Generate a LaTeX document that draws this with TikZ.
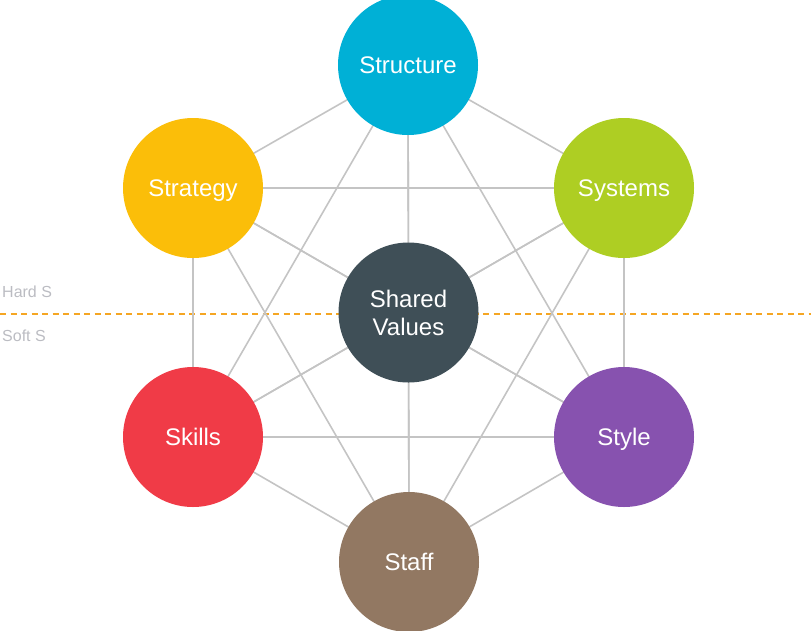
\documentclass[tikz,border=0pt]{standalone}
\usepackage{fontspec}
\setmainfont{Liberation Sans}
\definecolor{cStructure}{HTML}{00B0D6}
\definecolor{cStrategy}{HTML}{FBBE09}
\definecolor{cSystems}{HTML}{AECE23}
\definecolor{cShared}{HTML}{3F4F57}
\definecolor{cSkills}{HTML}{F03B47}
\definecolor{cStyle}{HTML}{8752AF}
\definecolor{cStaff}{HTML}{927862}
\definecolor{cLine}{HTML}{C4C4C4}
\definecolor{cDash}{HTML}{F5A623}
\definecolor{cLabel}{HTML}{BBBCC2}
\begin{document}
\begin{tikzpicture}[x=1pt,y=-1pt,
  sball/.style={circle,minimum size=140pt,inner sep=0pt,text=white,
    font=\fontsize{24}{28}\selectfont,align=center},
  oneline/.style={text height=17pt,text depth=0pt},
  link/.style={draw=cLine,line width=1.6pt},
  side/.style={text=cLabel,font=\fontsize{16}{18}\selectfont,anchor=base west,inner sep=0pt}]
\useasboundingbox (0,0) rectangle (811,630);
\coordinate (dl) at (0,314);
\coordinate (dr) at (811,314);
\draw[cDash,line width=1.6pt,dash pattern=on 6pt off 4.5pt] (dl) -- (dr);
\node[side] (hard) at (2,297) {Hard S};
\node[side] (soft) at (2,341) {Soft S};
\coordinate (pStructure) at (408,65);
\coordinate (pStrategy) at (193,188);
\coordinate (pSystems) at (624,188);
\coordinate (pShared) at (408.5,312.5);
\coordinate (pSkills) at (193,437);
\coordinate (pStyle) at (624,437);
\coordinate (pStaff) at (409,562);
\foreach \a/\b in {Structure/Strategy,Structure/Systems,Structure/Shared,Structure/Skills,Structure/Style,Structure/Staff,
  Strategy/Systems,Strategy/Shared,Strategy/Skills,Strategy/Style,Strategy/Staff,
  Systems/Shared,Systems/Skills,Systems/Style,Systems/Staff,
  Shared/Skills,Shared/Style,Shared/Staff,
  Skills/Style,Skills/Staff,Style/Staff}
  \draw[link] (p\a) -- (p\b);
\node[sball,oneline,fill=cStructure] (structure) at (pStructure) {Structure};
\node[sball,oneline,fill=cStrategy] (strategy) at (pStrategy) {Strategy};
\node[sball,oneline,fill=cSystems] (systems) at (pSystems) {Systems};
\node[sball,fill=cShared] (shared) at (pShared) {Shared\\Values};
\node[sball,oneline,fill=cSkills] (skills) at (pSkills) {Skills};
\node[sball,oneline,fill=cStyle] (style) at (pStyle) {Style};
\node[sball,oneline,fill=cStaff] (staff) at (pStaff) {Staff};
\end{tikzpicture}
\end{document}
